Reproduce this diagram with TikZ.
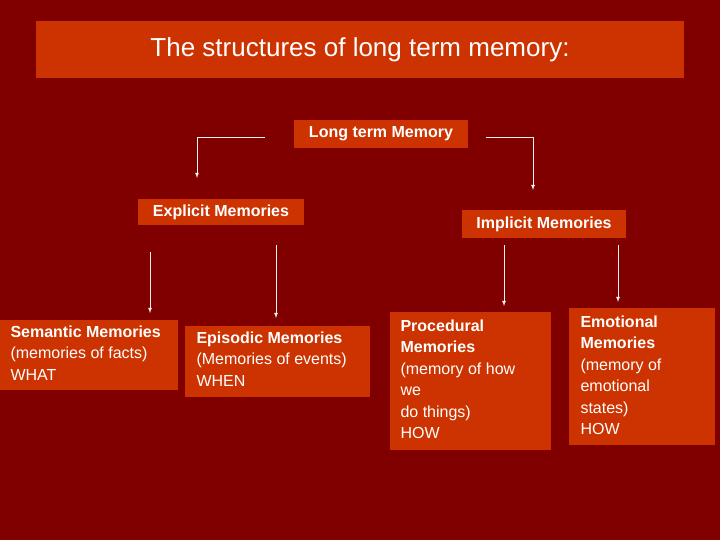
\documentclass[tikz,border=0pt]{standalone}
\usepackage{fontspec}
\setmainfont{Liberation Sans}
\begin{document}
\begin{tikzpicture}[x=1pt,y=-1pt,
  box/.style={fill=boxc,draw=none,text=white,inner sep=0pt},
  con/.style={draw=white!90!gray,line width=0.8pt,-latex}]
\definecolor{bg}{HTML}{800000}
\definecolor{boxc}{HTML}{CC3300}
\fill[bg] (0,0) rectangle (720,540);
\useasboundingbox (0,0) rectangle (720,540);
\fill[boxc] (36,21) rectangle (684,78);
\node[text=white,font=\fontsize{26}{30}\selectfont] (title) at (360,50) {The structures of long term memory:};
\fill[boxc] (294,120) rectangle (468,148);
\node[text=white,font=\bfseries\fontsize{16}{19}\selectfont] (ltm) at (381,134) {Long term Memory};
\fill[boxc] (138,199) rectangle (304,225);
\node[text=white,font=\bfseries\fontsize{16}{19}\selectfont] (exp) at (221,212) {Explicit Memories};
\fill[boxc] (462,210) rectangle (626,238);
\node[text=white,font=\bfseries\fontsize{16}{19}\selectfont] (imp) at (544,224) {Implicit Memories};
\fill[boxc] (0,320) rectangle (178,390);
\node[text=white,anchor=north west,align=left,font=\fontsize{16}{21.5}\selectfont] (sem) at (7,322) {\textbf{Semantic Memories}\\(memories of facts)\\WHAT};
\fill[boxc] (185,326) rectangle (370,397);
\node[text=white,anchor=north west,align=left,font=\fontsize{16}{21.5}\selectfont] (epi) at (193,328) {\textbf{Episodic Memories}\\(Memories of events)\\WHEN};
\fill[boxc] (390,312) rectangle (551,450);
\node[text=white,anchor=north west,align=left,font=\fontsize{16}{21.5}\selectfont] (pro) at (397,316) {\textbf{Procedural}\\\textbf{Memories}\\(memory of how\\we\\do things)\\HOW};
\fill[boxc] (569,308) rectangle (715,445);
\node[text=white,anchor=north west,align=left,font=\fontsize{16}{21.5}\selectfont] (emo) at (577,312) {\textbf{Emotional}\\\textbf{Memories}\\(memory of\\emotional\\states)\\HOW};
\coordinate (a1) at (265,137); \coordinate (a2) at (197,178);
\coordinate (b1) at (486,137); \coordinate (b2) at (533,190);
\draw[con] (a1) -| (a2);
\draw[con] (b1) -| (b2);
\coordinate (c1) at (150,252); \coordinate (c2) at (150,313);
\coordinate (d1) at (276,245); \coordinate (d2) at (276,318);
\coordinate (e1) at (504,245); \coordinate (e2) at (504,306);
\coordinate (f1) at (618,245); \coordinate (f2) at (618,302);
\draw[con] (c1) -- (c2);
\draw[con] (d1) -- (d2);
\draw[con] (e1) -- (e2);
\draw[con] (f1) -- (f2);
\end{tikzpicture}
\end{document}
